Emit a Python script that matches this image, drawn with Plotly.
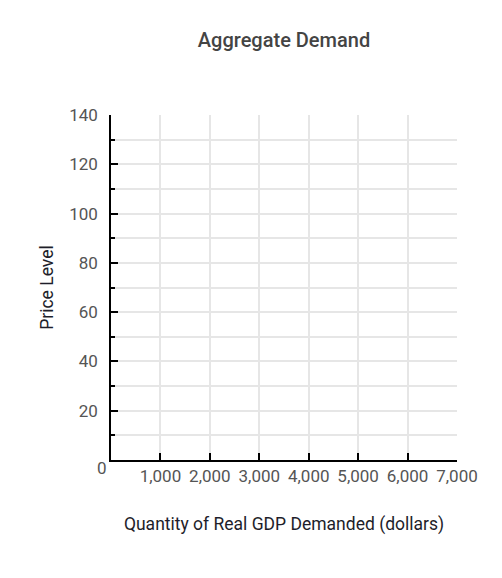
#!/usr/bin/env python3
"""Empty Aggregate Demand grid (price level vs real GDP demanded)."""

import plotly.graph_objects as go

# axis data
X_RANGE = [0, 7000]
Y_RANGE = [0, 140]
X_TICKS = [1000, 2000, 3000, 4000, 5000, 6000, 7000]
X_LABELS = ['1,000', '2,000', '3,000', '4,000', '5,000', '6,000', '7,000']
Y_TICKS = [20, 40, 60, 80, 100, 120, 140]
Y_LABELS = ['20', '40', '60', '80', '100', '120', '140']
ORIGIN_LABEL = '0'

# no curve plotted yet
AD_QUANTITY = []
AD_PRICE = []

FONT = 'Roboto, "Noto Sans", sans-serif'
TICK_COLOR = '#555555'
GRID_COLOR = '#e6e6e6'

W, H = 502, 578
PAGE_MARGIN = 8  # default body margin of the html page
# plot area as seen in the window
PLOT_L, PLOT_R, PLOT_T, PLOT_B = 111, 457, 115, 460


def build_figure() -> go.Figure:
    fig = go.Figure(
        data=[
            go.Scatter(
                x=AD_QUANTITY,
                y=AD_PRICE,
                mode='lines',
                name='AD',
                line=dict(color='#1f77b4', width=2),
                showlegend=False,
            )
        ]
    )

    fig.update_layout(
        width=W,
        height=H,
        margin=dict(
            l=PLOT_L - PAGE_MARGIN,
            r=W - PLOT_R + PAGE_MARGIN,
            t=PLOT_T - PAGE_MARGIN,
            b=H - PLOT_B + PAGE_MARGIN,
        ),
        paper_bgcolor='white',
        plot_bgcolor='white',
        font=dict(family=FONT, color=TICK_COLOR),
        title=dict(
            text='Aggregate Demand',
            x=((PLOT_L + PLOT_R) / 2 - PAGE_MARGIN) / W,
            xanchor='center',
            y=1 - (40 - PAGE_MARGIN) / H,
            yanchor='middle',
            yref='container',
            font=dict(family=FONT, size=20, color='#444444', weight=500),
        ),
        showlegend=False,
    )

    fig.update_xaxes(
        range=X_RANGE,
        tickvals=X_TICKS,
        ticktext=X_LABELS,
        ticks='inside',
        ticklen=7,
        tickwidth=1.5,
        tickcolor='black',
        tickfont=dict(size=17, color=TICK_COLOR),
        showline=True,
        linecolor='black',
        linewidth=1.5,
        showgrid=True,
        gridcolor=GRID_COLOR,
        gridwidth=1.5,
        zeroline=False,
        fixedrange=True,
        title=dict(
            text='Quantity of Real GDP Demanded (dollars)',
            font=dict(size=17.5, color='#1e1e2a'),
            standoff=33,
        ),
        automargin=False,
    )

    fig.update_yaxes(
        range=Y_RANGE,
        tickvals=Y_TICKS,
        ticktext=Y_LABELS,
        ticks='inside',
        ticklen=7,
        tickwidth=1.5,
        tickcolor='black',
        ticklabelstandoff=8,
        tickfont=dict(size=17, color=TICK_COLOR),
        minor=dict(
            dtick=10,
            ticks='inside',
            ticklen=4,
            tickcolor='black',
            showgrid=True,
            gridcolor=GRID_COLOR,
            gridwidth=1.5,
        ),
        showline=True,
        linecolor='black',
        linewidth=1.5,
        showgrid=True,
        gridcolor=GRID_COLOR,
        gridwidth=1.5,
        zeroline=False,
        fixedrange=True,
        title=dict(
            text='Price Level',
            font=dict(size=17.5, color='#1e1e2a'),
            standoff=11,
        ),
        automargin=False,
    )

    # origin label sits below-left of the corner
    fig.add_annotation(
        x=X_RANGE[0],
        y=Y_RANGE[0],
        text=ORIGIN_LABEL,
        showarrow=False,
        xanchor='right',
        yanchor='top',
        xshift=-2,
        yshift=4,
        font=dict(family=FONT, size=17, color=TICK_COLOR),
    )

    return fig


def main() -> None:
    fig = build_figure()
    fig.write_html('out.html', config={'displayModeBar': False})


if __name__ == '__main__':
    main()
